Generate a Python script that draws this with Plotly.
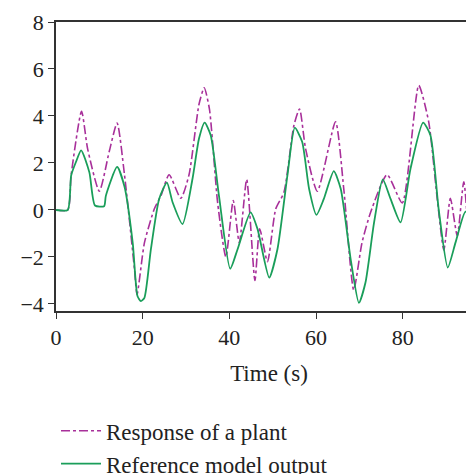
import plotly.graph_objects as go

ref_t = [0, 2.7, 3.5, 4.6, 5.8, 7.7, 9.0, 11.1, 11.5, 14.1, 15.8, 17.7, 18.8, 19.6, 20.4, 21.9,
         23.8, 25.6, 26.9, 29.2, 31.5, 33.0, 34.3, 35.7, 37.6, 40.2, 41.9, 44.9, 46.5, 49.2,
         51.1, 53.4, 55.1, 56.8, 58.4, 60.1, 61.8, 64.1, 65.7, 68.0, 69.9, 71.4, 73.4, 75.4,
         77.2, 79.5, 81.8, 84.7, 86.4, 88.3, 90.4, 92.2, 94.5, 96.4, 97.9, 100]
ref_y = [0, 0, 1.47, 2.04, 2.54, 1.6, 0.19, 0.16, 0.6, 1.83, 1.0, -1.4, -3.66, -3.88, -3.74, -1.67,
         0.47, 1.16, 0.33, -0.6, 1.33, 3.04, 3.72, 3.18, 0.61, -2.5, -1.67, -0.1, -0.81, -2.88,
         -1.67, 1.47, 3.5, 2.9, 0.9, -0.21, 0.47, 1.65, 0.9, -2.1, -3.95, -3.1, -0.53, 1.3,
         0.47, -0.53, 1.75, 3.72, 3.18, 0.04, -2.45, -1.38, -0.07, -0.53, -2.24, -2.6]

plant_t = [0, 2.7, 3.5, 5.9, 7.3, 10.0, 12.3, 14.1, 15.8, 18.1, 18.7, 20.4, 22.7, 24.2, 26.1,
           28.8, 30.7, 33.0, 34.2, 35.4, 37.3, 39.2, 40.9, 42.3, 44.0, 45.9, 47.0, 48.8, 50.7,
           52.6, 54.9, 56.2, 57.6, 60.3, 64.5, 66.4, 68.7, 70.6, 72.6, 76.4, 79.9, 83.7, 86.0,
           87.9, 89.5, 91.0, 92.6, 94.1, 96.0, 97.2, 100]
plant_y = [0, 0, 1.5, 4.2, 2.6, 0.8, 2.5, 3.7, 1.5, -2.5, -3.6, -1.4, 0.05, 0.6, 1.5,
           0.5, 1.5, 4.5, 5.2, 4.3, 0.3, -2.0, 0.4, -1.4, 1.3, -3.0, -0.8, -2.2, 0.04,
           0.75, 3.6, 4.3, 2.6, 0.8, 3.75, 0.9, -3.4, -1.4, -0.1, 1.5, 0.3, 5.3, 3.75,
           0.6, -1.7, 0.5, -1.1, 1.2, -2.7, -0.7, -2.8]

font = "Liberation Serif"

fig = go.Figure()
fig.add_trace(go.Scatter(x=plant_t, y=plant_y, mode="lines", name="Response of a plant",
                         line=dict(color="#a8309a", width=1.6, dash="dashdot", shape="spline", smoothing=0.6)))
fig.add_trace(go.Scatter(x=ref_t, y=ref_y, mode="lines", name="Reference model output",
                         line=dict(color="#1a9e5a", width=1.8, shape="spline", smoothing=0.6)))

fig.update_layout(
    width=474, height=474,
    margin=dict(l=48, r=0, t=14, b=171, autoexpand=False),
    plot_bgcolor="white", paper_bgcolor="white",
    font=dict(family=font, size=22, color="#222"),
    showlegend=True,
    legend=dict(x=0, y=-0.34, xanchor="left", yanchor="top", font=dict(size=23),
                bgcolor="rgba(0,0,0,0)", tracegroupgap=0, itemwidth=40),
    xaxis=dict(range=[0, 98.3], tickvals=[0, 20, 40, 60, 80], showgrid=False, zeroline=False,
               showline=True, linecolor="#333", linewidth=1.5, mirror=True,
               ticks="outside", ticklen=6, tickcolor="#333",
               title=dict(text="Time (s)", font=dict(size=23), standoff=16)),
    yaxis=dict(range=[-4.3, 8], tickvals=[-4, -2, 0, 2, 4, 6, 8],
               ticktext=["\u22124", "\u22122", "0", "2", "4", "6", "8"],
               showgrid=False, zeroline=False, showline=True, linecolor="#333", linewidth=1.5,
               ticks="outside", ticklen=6, tickcolor="#333"),
)
fig.add_annotation(x=100, y=-0.03, xref="x", yref="paper", text="100", showarrow=False,
                   yanchor="top", font=dict(size=22))

fig.write_html("out.html")
